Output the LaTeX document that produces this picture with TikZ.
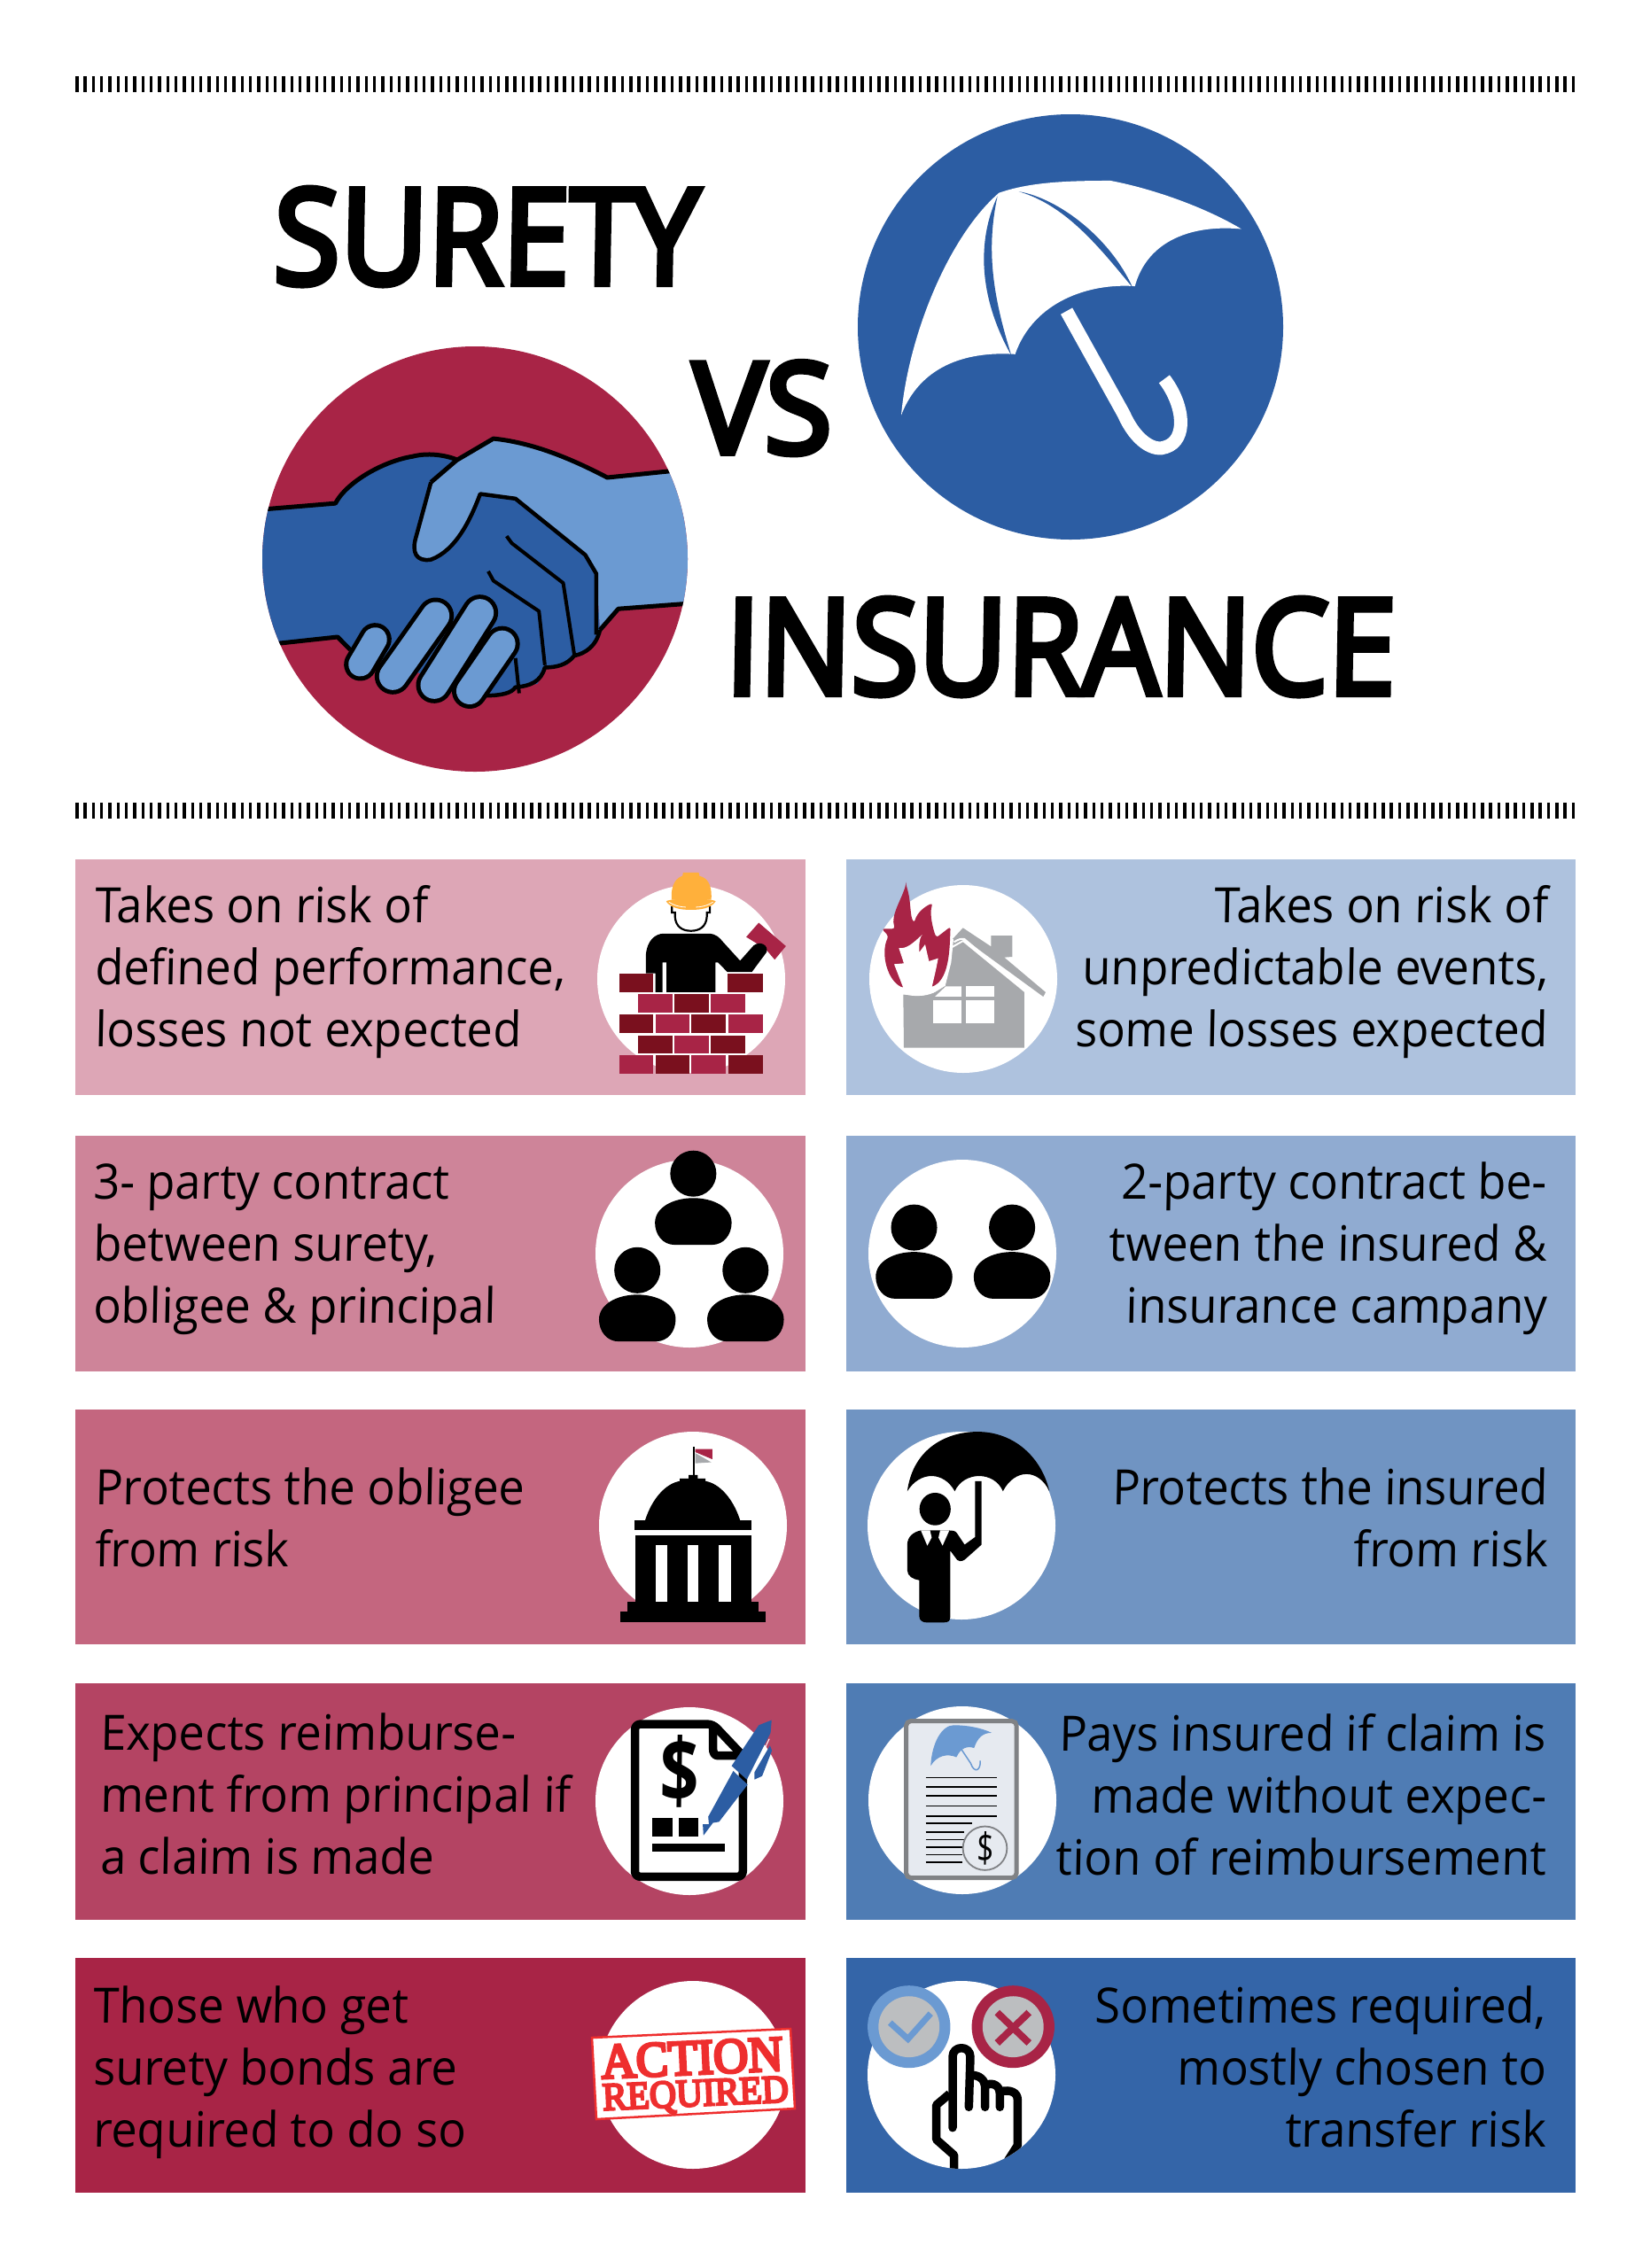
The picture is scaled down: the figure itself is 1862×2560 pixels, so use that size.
\documentclass[tikz,border=0pt]{standalone}
\usepackage{fontspec}
\usepackage{graphicx}
\setmainfont[FakeStretch=0.953,FakeSlant=0.02]{Open Sans}
\newfontfamily\headfont[FakeBold=5,FakeSlant=0.02]{Open Sans}
\newfontfamily\stampfont[FakeBold=6]{Liberation Serif}
\definecolor{crim}{HTML}{A82446}
\definecolor{brickdark}{HTML}{7A101E}
\definecolor{bluedark}{HTML}{2C5DA3}
\definecolor{bluelight}{HTML}{6B9AD2}
\definecolor{hat}{HTML}{FFB03B}
\definecolor{greyicon}{HTML}{A7A9AC}
\definecolor{greymark}{HTML}{BCBEC0}
\definecolor{paper}{HTML}{E6EAF0}
\definecolor{docgrey}{HTML}{808285}
\definecolor{stampred}{HTML}{EE2E2E}
\definecolor{La}{HTML}{DDA6B6}\definecolor{Lb}{HTML}{CE8499}\definecolor{Lc}{HTML}{C4667F}\definecolor{Ld}{HTML}{B44463}\definecolor{Le}{HTML}{A82446}
\definecolor{Ra}{HTML}{AEC2DE}\definecolor{Rb}{HTML}{90ABD1}\definecolor{Rc}{HTML}{7094C2}\definecolor{Rd}{HTML}{4F7CB4}\definecolor{Re}{HTML}{3465A8}
\tikzset{
 zoomA/.style={shift={(250,60)},x=0.8292pt,y=-0.5293pt},
 zoomB/.style={shift={(640,960)},x=0.3827pt,y=-0.3827pt},
 zoomC/.style={shift={(640,1600)},x=0.3827pt,y=-0.574pt},
 zoomD/.style={shift={(960,960)},x=0.3333pt,y=-0.3333pt},
 zoomE/.style={shift={(350,580)},x=0.3333pt,y=-0.3333pt},
 zoomF/.style={shift={(1030,2290)},x=0.3333pt,y=-0.3333pt},
 ticks/.style={line width=18pt,dash pattern=on 3.5pt off 5.83pt},
 title/.style={inner sep=0pt,anchor=south west,font=\headfont\fontsize{150}{150}\selectfont},
 lefttext/.style={inner sep=0pt,anchor=base west,align=left,font=\fontsize{55}{70}\selectfont},
 righttext/.style={inner sep=0pt,anchor=base east,align=right,font=\fontsize{55}{70}\selectfont},
 disc/.style={fill=white},
 outline/.style={draw=black,line width=5pt,line join=round},
 brickA/.style={fill=crim},
 brickB/.style={fill=brickdark},
}
\newcommand\personicon[2]{\begin{scope}[shift={(#1,#2)}]
 \fill (0,0) circle (68);
 \fill (-55,210) -- (55,210) .. controls (90,210) and (113,180) .. (113,145) .. controls (113,100) and (60,72) .. (0,72) .. controls (-60,72) and (-113,100) .. (-113,145) .. controls (-113,180) and (-90,210) .. (-55,210) -- cycle;
\end{scope}}
\newcommand\finger[5]{\draw[line cap=round,line width=#5 pt] (#1,#2) -- (#3,#4);\draw[line cap=round,line width=#5 pt-10pt,bluelight] (#1,#2) -- (#3,#4);}
\begin{document}
\begin{tikzpicture}[x=1pt,y=-1pt]
\useasboundingbox (0,0) rectangle (1862,2560);
\draw[ticks] (85,95) -- (1780,95);
\draw[ticks] (85,915) -- (1780,915);
% header
\fill[bluedark] (1208,369) circle (240);
\fill[crim] (536,631) circle (240);
\node[title] (surety) at (308,322) {\resizebox{480pt}{108pt}{SURET\kern-6pt Y}};
\node[title] (vs) at (780,513) {\resizebox{158pt}{103pt}{VS}};
\node[title] (insurance) at (818,785) {\resizebox{756pt}{108pt}{INSURANCE}};
% umbrella
\begin{scope}[zoomA]
 \fill[white] (925,772) .. controls (935,600) and (990,390) .. (1058,298) .. controls (1100,275) and (1150,272) .. (1210,272) .. controls (1270,290) and (1340,330) .. (1388,375) .. controls (1320,365) and (1260,400) .. (1243,497) .. controls (1180,490) and (1105,530) .. (1080,642) .. controls (1010,635) and (950,670) .. (925,772) -- cycle;
 \fill[bluedark] (1056,305) .. controls (1028,400) and (1030,520) .. (1075,645) .. controls (1050,520) and (1040,420) .. (1056,305) -- cycle;
 \fill[bluedark] (1085,295) .. controls (1140,310) and (1210,395) .. (1240,500) .. controls (1195,415) and (1150,325) .. (1085,295) -- cycle;
 \draw[white,line width=15pt] (1150,550) -- (1228,770) .. controls (1245,830) and (1270,850) .. (1285,840) .. controls (1315,825) and (1310,750) .. (1283,695);
\end{scope}
% handshake
\begin{scope}
 \clip (536,631) circle (240);
 \begin{scope}[zoomA]
  \fill[bluedark] (40,975) -- (155,960) .. controls (170,915) and (220,870) .. (260,860) .. controls (285,850) and (310,860) .. (322,868) -- (400,945) -- (495,1070) -- (510,1110) -- (515,1230) -- (500,1270) -- (480,1285) -- (470,1305) -- (440,1310) -- (430,1345) -- (400,1350) -- (395,1365) -- (360,1370) -- (170,1270) -- (158,1248) -- (40,1265) -- cycle;
  \draw[outline] (40,975) -- (155,960) .. controls (170,915) and (220,870) .. (260,860) .. controls (285,850) and (310,860) .. (322,868);
  \draw[outline] (40,1265) -- (158,1245) -- (175,1272);
  \fill[bluelight] (320,868) -- (370,822) .. controls (420,830) and (470,860) .. (525,905) -- (650,885) -- (650,1172) -- (540,1185) -- (515,1230) -- (510,1110) -- (495,1070) -- (400,950) -- (352,940) .. controls (340,990) and (320,1060) .. (285,1080) .. controls (265,1085) and (258,1065) .. (265,1030) -- (285,915) -- cycle;
  \draw[outline] (285,915) -- (320,868) -- (370,822) .. controls (420,830) and (470,860) .. (525,905) -- (650,885);
  \draw[outline] (650,1172) -- (540,1185) -- (515,1230);
  \draw[outline,line width=4.5pt] (510,1240) -- (510,1110) -- (495,1070) -- (400,950) -- (352,940) .. controls (340,990) and (320,1060) .. (285,1080) .. controls (265,1085) and (258,1065) .. (265,1030) -- (285,915);
  \draw[outline,line width=4pt] (388,1030) -- (395,1045) -- (465,1130) -- (480,1282);
  \draw[outline,line width=4pt] (363,1105) -- (370,1125) -- (432,1190) -- (440,1305);
  \draw[outline,line width=4pt] (400,1290) -- (405,1365);
  \draw[outline,line width=4.5pt] (515,1230) .. controls (510,1265) and (495,1280) .. (480,1285) .. controls (470,1305) and (455,1310) .. (440,1310) .. controls (435,1340) and (420,1350) .. (400,1352) .. controls (395,1365) and (380,1370) .. (360,1370);
 \end{scope}
 \begin{scope}[zoomE]
  \finger{220}{425}{170}{510}{37}
  \finger{425}{345}{280}{550}{41}
  \finger{575}{335}{420}{580}{41}
  \finger{650}{440}{540}{600}{40}
 \end{scope}
\end{scope}
% cells
\foreach \yt/\yb/\cl/\cr in {970/1236/La/Ra,1281.5/1547.5/Lb/Rb,1591/1855.5/Lc/Rc,1899.5/2166.5/Ld/Rd,2209.5/2475/Le/Re}{
 \fill[\cl] (85,\yt) rectangle (909,\yb);
 \fill[\cr] (955,\yt) rectangle (1778,\yb);
}
\foreach \cx/\cy in {780/1105,1087/1105,778/1415,1086/1415,782/1722,1085/1722,778/2033,1086/2032,782/2342,1085/2342}{
 \fill[disc] (\cx,\cy) circle (106);
}
% texts
\node[lefttext] (l1) at (107,1181) {Takes on risk of\\defined performance,\\losses not expected};
\node[lefttext] (l2) at (105,1493) {3- party contract\\between surety,\\obligee \& principal};
\node[lefttext] (l3) at (107,1768) {Protects the obligee\\from risk};
\node[lefttext] (l4) at (113,2115) {Expects reimburse-\\ment from principal if\\a claim is made};
\node[lefttext] (l5) at (105,2423) {Those who get\\surety bonds are\\required to do so};
\node[righttext] (r1) at (1747,1181) {Takes on risk of\\unpredictable events,\\some losses expected};
\node[righttext] (r2) at (1746,1493) {2-party contract be-\\tween the insured \&\\insurance campany};
\node[righttext] (r3) at (1747,1768) {Protects the insured\\from risk};
\node[righttext] (r4) at (1745,2116) {Pays insured if claim is\\made without expec-\\tion of reimbursement};
\node[righttext] (r5) at (1745,2423) {Sometimes required,\\mostly chosen to\\transfer risk};
% worker and bricks
\begin{scope}[zoomB]
 \fill[crim] (565,213) -- (645,282) -- (612,322) -- (585,290) -- (528,255) -- cycle;
 \fill (232,362) -- (232,310) .. controls (235,265) and (260,245) .. (285,245) -- (415,245) .. controls (440,245) and (450,258) .. (460,270) -- (510,325) -- (550,280) .. controls (570,265) and (595,280) .. (588,300) -- (545,358) -- (472,358) -- (445,330) -- (437,330) -- (437,418) -- (293,418) -- (293,330) -- (281,330) -- (281,418) -- (260,418) -- (260,362) -- cycle;
 \draw[line width=2.2pt] (309,165) -- (309,183) -- (318,183) -- (318,195) .. controls (320,225) and (340,237) .. (365,237) .. controls (390,237) and (410,225) .. (412,195) -- (412,183) -- (421,183) -- (421,165);
 \fill[hat] (308,145) .. controls (305,95) and (325,80) .. (340,75) -- (342,65) -- (388,65) -- (390,75) .. controls (410,80) and (428,95) .. (425,145) -- cycle;
 \fill[hat] (292,150) .. controls (300,140) and (430,140) .. (438,150) .. controls (425,170) and (395,175) .. (365,175) .. controls (335,175) and (305,170) .. (292,150) -- cycle;
 \draw[white,line width=0.8pt] (300,152) .. controls (320,165) and (340,167) .. (350,167);
 \draw[white,line width=0.8pt] (430,152) .. controls (410,165) and (390,167) .. (380,167);
 \foreach \xa/\xb/\ya/\yb/\st in {153/254/363/418/brickB,473/577/363/418/brickB,210/311/424/478/brickA,317/418/424/478/brickB,424/525/424/478/brickA,153/254/484/538/brickB,260/361/484/538/brickA,367/468/484/538/brickB,475/577/484/538/brickA,210/311/545/598/brickB,317/418/545/598/brickA,424/525/545/598/brickB,153/254/604/658/brickA,260/361/604/658/brickB,367/468/604/658/brickA,475/577/604/658/brickB}{
  \path[\st] (\xa,\ya) rectangle (\xb,\yb);
 }
 \personicon{372}{953}
 \personicon{207}{1238}
 \personicon{526}{1238}
 \personicon{1023}{1112}
 \personicon{1312}{1112}
\end{scope}
% burning house
\begin{scope}[zoomD]
 \fill[greyicon] (178,488) -- (250,490) -- (285,480) -- (320,458) -- (345,330) -- (380,310) -- (588,480) -- (588,668) -- (180,668) -- cycle;
 \fill[greyicon] (345,322) -- (345,300) -- (380,262) -- (475,325) -- (475,288) -- (547,288) -- (547,360) -- (520,362) -- (660,480) -- (652,495) -- (385,300) -- cycle;
 \fill[white] (280,507) rectangle (375,585);
 \fill[white] (390,507) rectangle (485,585);
 \fill[white] (390,460) rectangle (485,495);
 \fill[white] (322,460) -- (375,460) -- (375,495) -- (285,495) -- cycle;
 \draw[white,line width=2pt] (350,310) .. controls (365,300) and (375,298) .. (385,300) -- (588,470);
 \fill[white] (170,470) -- (178,486) .. controls (210,495) and (250,495) .. (280,482) -- (320,458) -- (340,380) -- (348,300) -- (300,300) -- (170,400) -- cycle;
 \fill[crim,rounded corners=3pt] (187,115) .. controls (205,170) and (200,220) .. (215,245) .. controls (225,210) and (250,190) .. (278,178) .. controls (265,215) and (280,270) .. (290,295) -- (338,258) .. controls (335,330) and (335,430) .. (275,462) -- (178,465) .. controls (125,440) and (100,350) .. (128,290) -- (105,265) -- (150,265) .. controls (135,220) and (170,170) .. (187,115) -- cycle;
 \fill[white] (242,285) .. controls (230,300) and (232,330) .. (232,345) -- (252,318) -- (265,375) -- (296,365) .. controls (290,400) and (280,440) .. (275,462) .. controls (240,495) and (200,490) .. (178,465) -- (147,385) -- (180,382) -- (163,330) .. controls (190,335) and (215,310) .. (242,285) -- cycle;
\end{scope}
% lower icons
\begin{scope}[zoomC]
 % capitol
 \fill (370,57) rectangle (376,120);
 \fill[crim] (378,62) -- (428,62) -- (428,82) -- (378,68) -- cycle;
 \fill[greyicon] (378,70) -- (425,88) -- (378,90) -- cycle;
 \fill (230,202) .. controls (250,160) and (290,130) .. (332,125) -- (332,120) -- (358,120) -- (358,113) -- (385,113) -- (385,120) -- (408,120) -- (408,125) .. controls (450,130) and (490,160) .. (510,202) -- cycle;
 \fill (198,202) rectangle (544,222);
 \fill (200,232) rectangle (544,362);
 \fill[white] (260,250) rectangle (295,362);
 \fill[white] (355,250) rectangle (388,362);
 \fill[white] (448,250) rectangle (483,362);
 \fill (178,362) rectangle (565,382);
 \fill (157,382) rectangle (586,402);
 % umbrella man
 \fill (1003,145) .. controls (1020,60) and (1120,28) .. (1210,28) .. controls (1320,28) and (1400,80) .. (1422,145) .. controls (1390,100) and (1320,100) .. (1285,145) .. controls (1260,105) and (1170,105) .. (1143,145) .. controls (1110,105) and (1040,105) .. (1003,145) -- cycle;
 \fill (1085,180) ellipse [x radius=46,y radius=32];
 \fill (1043,222) .. controls (1020,225) and (1003,235) .. (1003,250) -- (1003,300) .. controls (1003,312) and (1020,318) .. (1038,320) -- (1038,390) .. controls (1038,400) and (1050,403) .. (1060,403) -- (1110,403) .. controls (1125,403) and (1130,400) .. (1130,390) -- (1130,262) -- (1150,280) .. controls (1160,285) and (1170,282) .. (1180,275) -- (1222,250) -- (1222,125) -- (1203,125) -- (1203,235) -- (1172,250) -- (1150,228) .. controls (1145,222) and (1135,222) .. (1127,222) -- cycle;
 \fill[white] (1043,222) -- (1062,252) -- (1075,236) -- (1070,222) -- cycle;
 \fill[white] (1127,222) -- (1107,252) -- (1095,236) -- (1100,222) -- cycle;
 % dollar document
 \draw[line width=9.5pt,fill=white,line join=round,rounded corners=6pt] (200,603) -- (430,603) -- (518,665) -- (518,903) -- (200,903) -- cycle;
 \draw[line width=9.5pt,line join=round] (430,603) -- (430,650) .. controls (430,660) and (435,665) .. (445,665) -- (518,665);
 \node[inner sep=0pt,font=\bfseries] (dollarA) at (330,696) {\resizebox{44pt}{76pt}{\$}};
 \fill (252,787) rectangle (310,824);
 \fill (330,787) rectangle (386,824);
 \fill (252,838) rectangle (466,853);
 \fill[bluedark] (416,785) -- (490,695) -- (532,722) -- (448,795) -- (430,797) -- (402,822) -- (400,800) -- (418,800) -- cycle;
 \fill[bluedark] (485,685) -- (565,605) -- (603,595) -- (600,620) -- (530,712) -- cycle;
 \fill[bluedark] (552,698) -- (598,645) -- (604,655) -- (575,705) -- (552,712) -- cycle;
 \draw[white,line width=1pt] (555,690) -- (596,632);
 % insurance document
 \draw[docgrey,fill=paper,line width=5pt,rounded corners=5pt] (1000,597) rectangle (1325,905);
 \fill[bluelight] (1072,685) .. controls (1075,640) and (1105,605) .. (1140,605) .. controls (1180,605) and (1220,610) .. (1252,620) .. controls (1225,620) and (1210,630) .. (1200,650) .. controls (1180,645) and (1160,650) .. (1148,668) .. controls (1120,660) and (1090,665) .. (1072,685) -- cycle;
 \draw[bluelight,line width=1.5pt] (1160,650) -- (1190,680) .. controls (1200,700) and (1220,695) .. (1218,675);
 \foreach \ly in {708,726,744,764,784}{\draw[line width=1.6pt] (1057,\ly) -- (1267,\ly);}
 \draw[line width=1.6pt] (1057,798) -- (1195,798);
 \foreach \ly in {815,830,845}{\draw[line width=1.6pt] (1057,\ly) -- (1170,\ly);}
 \foreach \ly in {860,875}{\draw[line width=1.6pt] (1057,\ly) -- (1165,\ly);}
 \draw[docgrey,fill=paper,line width=1.8pt] (1232,847) ellipse [x radius=65,y radius=43];
 \node[inner sep=0pt] (dollarB) at (1232,847) {\resizebox{19pt}{35pt}{\$}};
 % choice marks
 \fill[bluelight] (1008,1198) ellipse [x radius=122,y radius=81];
 \fill[greymark] (1008,1198) ellipse [x radius=90,y radius=60];
 \draw[bluelight,line width=7pt] (952,1190) -- (1005,1222) -- (1072,1172);
 \fill[crim] (1315,1198) ellipse [x radius=122,y radius=81];
 \fill[greymark] (1315,1198) ellipse [x radius=90,y radius=60];
 \draw[crim,line width=8pt] (1268,1170) -- (1362,1230);
 \draw[crim,line width=8pt] (1362,1170) -- (1268,1230);
\end{scope}
% action stamp
\draw[stampred,fill=white,line width=2.5pt] (668,2300) -- (892,2290) -- (897,2380) -- (673,2392) -- cycle;
\node[inner sep=0pt,rotate=2.6,text=stampred,font=\stampfont] (stampa) at (781,2323) {\resizebox{205pt}{37pt}{ACTION}};
\node[inner sep=0pt,rotate=2.6,text=stampred,font=\stampfont] (stampb) at (785,2366) {\resizebox{210pt}{29pt}{REQUIRED}};
% hand
\begin{scope}
 \clip (1085,2342) circle (106);
 \begin{scope}[zoomF]
  \draw[line width=9.5pt,line cap=round,line join=round] (135,335) -- (135,95) .. controls (135,55) and (195,55) .. (195,95) -- (190,265);
  \draw[line width=9.5pt,line cap=round,line join=round] (200,158) .. controls (225,155) and (245,175) .. (245,195) -- (245,265);
  \draw[line width=9.5pt,line cap=round,line join=round] (250,190) .. controls (275,180) and (295,195) .. (295,220) -- (295,265);
  \draw[line width=9.5pt,line cap=round,line join=round] (300,212) .. controls (330,205) and (355,215) .. (355,240) -- (355,395) -- (320,450);
  \draw[line width=9.5pt,line join=round] (125,220) -- (80,258) -- (80,375) -- (140,428) -- (140,490);
 \end{scope}
\end{scope}
\end{tikzpicture}
\end{document}
